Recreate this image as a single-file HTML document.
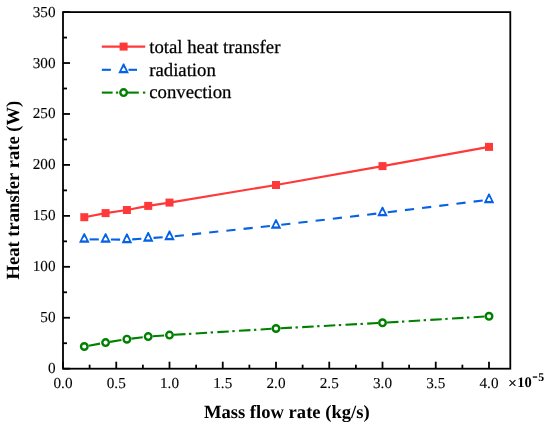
<!DOCTYPE html>
<html><head><meta charset="utf-8"><style>
html,body{margin:0;padding:0;background:#fff;width:550px;height:425px;overflow:hidden}
svg{display:block;will-change:transform}
text{font-family:"Liberation Serif",serif;fill:#000;text-rendering:geometricPrecision}
.t{font-size:15.2px;stroke:#000;stroke-width:0.12px}
.l{font-size:18.75px;stroke:#000;stroke-width:0.25px}
.a{font-size:18.6px;font-weight:bold}
.m{font-size:15px;stroke:#000;stroke-width:0.35px}
.b{font-size:14.5px;font-weight:bold}
.s{font-size:11.8px;font-weight:bold}
</style></head><body>
<svg width="550" height="425" viewBox="0 0 550 425">
<rect x="63.0" y="12.1" width="447.30" height="356.60" fill="none" stroke="#000" stroke-width="1.8"/>
<line x1="63.0" y1="368.70" x2="70.0" y2="368.70" stroke="#000" stroke-width="1.8"/>
<text x="55.5" y="373.20" text-anchor="end" class="t">0</text>
<line x1="63.0" y1="343.23" x2="67.0" y2="343.23" stroke="#000" stroke-width="1.8"/>
<line x1="63.0" y1="317.75" x2="70.0" y2="317.75" stroke="#000" stroke-width="1.8"/>
<text x="55.5" y="322.25" text-anchor="end" class="t">50</text>
<line x1="63.0" y1="292.28" x2="67.0" y2="292.28" stroke="#000" stroke-width="1.8"/>
<line x1="63.0" y1="266.81" x2="70.0" y2="266.81" stroke="#000" stroke-width="1.8"/>
<text x="55.5" y="271.31" text-anchor="end" class="t">100</text>
<line x1="63.0" y1="241.34" x2="67.0" y2="241.34" stroke="#000" stroke-width="1.8"/>
<line x1="63.0" y1="215.87" x2="70.0" y2="215.87" stroke="#000" stroke-width="1.8"/>
<text x="55.5" y="220.37" text-anchor="end" class="t">150</text>
<line x1="63.0" y1="190.39" x2="67.0" y2="190.39" stroke="#000" stroke-width="1.8"/>
<line x1="63.0" y1="164.92" x2="70.0" y2="164.92" stroke="#000" stroke-width="1.8"/>
<text x="55.5" y="169.42" text-anchor="end" class="t">200</text>
<line x1="63.0" y1="139.45" x2="67.0" y2="139.45" stroke="#000" stroke-width="1.8"/>
<line x1="63.0" y1="113.98" x2="70.0" y2="113.98" stroke="#000" stroke-width="1.8"/>
<text x="55.5" y="118.48" text-anchor="end" class="t">250</text>
<line x1="63.0" y1="88.50" x2="67.0" y2="88.50" stroke="#000" stroke-width="1.8"/>
<line x1="63.0" y1="63.03" x2="70.0" y2="63.03" stroke="#000" stroke-width="1.8"/>
<text x="55.5" y="67.53" text-anchor="end" class="t">300</text>
<line x1="63.0" y1="37.56" x2="67.0" y2="37.56" stroke="#000" stroke-width="1.8"/>
<line x1="63.0" y1="12.09" x2="70.0" y2="12.09" stroke="#000" stroke-width="1.8"/>
<text x="55.5" y="16.59" text-anchor="end" class="t">350</text>
<line x1="63.00" y1="368.7" x2="63.00" y2="361.7" stroke="#000" stroke-width="1.8"/>
<text x="63.00" y="388.4" text-anchor="middle" class="t">0.0</text>
<line x1="116.25" y1="368.7" x2="116.25" y2="361.7" stroke="#000" stroke-width="1.8"/>
<text x="116.25" y="388.4" text-anchor="middle" class="t">0.5</text>
<line x1="169.50" y1="368.7" x2="169.50" y2="361.7" stroke="#000" stroke-width="1.8"/>
<text x="169.50" y="388.4" text-anchor="middle" class="t">1.0</text>
<line x1="222.75" y1="368.7" x2="222.75" y2="361.7" stroke="#000" stroke-width="1.8"/>
<text x="222.75" y="388.4" text-anchor="middle" class="t">1.5</text>
<line x1="276.00" y1="368.7" x2="276.00" y2="361.7" stroke="#000" stroke-width="1.8"/>
<text x="276.00" y="388.4" text-anchor="middle" class="t">2.0</text>
<line x1="329.25" y1="368.7" x2="329.25" y2="361.7" stroke="#000" stroke-width="1.8"/>
<text x="329.25" y="388.4" text-anchor="middle" class="t">2.5</text>
<line x1="382.50" y1="368.7" x2="382.50" y2="361.7" stroke="#000" stroke-width="1.8"/>
<text x="382.50" y="388.4" text-anchor="middle" class="t">3.0</text>
<line x1="435.75" y1="368.7" x2="435.75" y2="361.7" stroke="#000" stroke-width="1.8"/>
<text x="435.75" y="388.4" text-anchor="middle" class="t">3.5</text>
<line x1="489.00" y1="368.7" x2="489.00" y2="361.7" stroke="#000" stroke-width="1.8"/>
<text x="489.00" y="388.4" text-anchor="middle" class="t">4.0</text>
<line x1="89.62" y1="368.7" x2="89.62" y2="364.7" stroke="#000" stroke-width="1.8"/>
<line x1="142.88" y1="368.7" x2="142.88" y2="364.7" stroke="#000" stroke-width="1.8"/>
<line x1="196.12" y1="368.7" x2="196.12" y2="364.7" stroke="#000" stroke-width="1.8"/>
<line x1="249.38" y1="368.7" x2="249.38" y2="364.7" stroke="#000" stroke-width="1.8"/>
<line x1="302.62" y1="368.7" x2="302.62" y2="364.7" stroke="#000" stroke-width="1.8"/>
<line x1="355.88" y1="368.7" x2="355.88" y2="364.7" stroke="#000" stroke-width="1.8"/>
<line x1="409.12" y1="368.7" x2="409.12" y2="364.7" stroke="#000" stroke-width="1.8"/>
<line x1="462.38" y1="368.7" x2="462.38" y2="364.7" stroke="#000" stroke-width="1.8"/>
<polyline points="84.30,217.20 105.60,213.10 126.90,210.00 148.20,205.90 169.50,202.60 276.00,185.00 382.50,166.10 489.00,146.90" fill="none" stroke="#FF3939" stroke-width="2.1"/>
<line x1="89.60" y1="239.40" x2="100.30" y2="239.40" stroke="#0562E6" stroke-width="2.1" stroke-dasharray="9.2 8.1"/>
<line x1="110.90" y1="239.47" x2="121.60" y2="239.63" stroke="#0562E6" stroke-width="2.1" stroke-dasharray="9.2 8.1"/>
<line x1="132.19" y1="239.33" x2="142.91" y2="238.57" stroke="#0562E6" stroke-width="2.1" stroke-dasharray="9.2 8.1"/>
<line x1="153.49" y1="237.85" x2="164.21" y2="237.15" stroke="#0562E6" stroke-width="2.1" stroke-dasharray="9.2 8.1"/>
<line x1="174.77" y1="236.24" x2="270.73" y2="225.96" stroke="#0562E6" stroke-width="2.1" stroke-dasharray="9.2 8.1"/>
<line x1="281.26" y1="224.78" x2="377.24" y2="213.52" stroke="#0562E6" stroke-width="2.1" stroke-dasharray="9.2 8.1"/>
<line x1="387.76" y1="212.25" x2="483.74" y2="200.35" stroke="#0562E6" stroke-width="2.1" stroke-dasharray="9.2 8.1"/>
<line x1="88.73" y1="345.69" x2="101.17" y2="343.41" stroke="#008000" stroke-width="2.1" stroke-dasharray="11.5 3.5 2.4 4.3"/>
<line x1="110.04" y1="341.89" x2="122.46" y2="339.91" stroke="#008000" stroke-width="2.1" stroke-dasharray="11.5 3.5 2.4 4.3"/>
<line x1="131.37" y1="338.65" x2="143.73" y2="337.15" stroke="#008000" stroke-width="2.1" stroke-dasharray="11.5 3.5 2.4 4.3"/>
<line x1="152.69" y1="336.28" x2="165.01" y2="335.42" stroke="#008000" stroke-width="2.1" stroke-dasharray="11.5 3.5 2.4 4.3"/>
<line x1="173.99" y1="334.82" x2="271.51" y2="328.78" stroke="#008000" stroke-width="2.1" stroke-dasharray="11.5 3.5 2.4 4.3"/>
<line x1="280.49" y1="328.26" x2="378.01" y2="323.04" stroke="#008000" stroke-width="2.1" stroke-dasharray="11.5 3.5 2.4 4.3"/>
<line x1="386.99" y1="322.53" x2="484.51" y2="316.57" stroke="#008000" stroke-width="2.1" stroke-dasharray="11.5 3.5 2.4 4.3"/>
<rect x="80.30" y="213.20" width="8" height="8" fill="#FF3939"/>
<rect x="101.60" y="209.10" width="8" height="8" fill="#FF3939"/>
<rect x="122.90" y="206.00" width="8" height="8" fill="#FF3939"/>
<rect x="144.20" y="201.90" width="8" height="8" fill="#FF3939"/>
<rect x="165.50" y="198.60" width="8" height="8" fill="#FF3939"/>
<rect x="272.00" y="181.00" width="8" height="8" fill="#FF3939"/>
<rect x="378.50" y="162.10" width="8" height="8" fill="#FF3939"/>
<rect x="485.00" y="142.90" width="8" height="8" fill="#FF3939"/>
<path d="M83.70,233.20L84.90,233.20L89.60,242.85L79.00,242.85ZM84.30,236.80L86.40,240.35L82.20,240.35Z" fill="#0562E6" fill-rule="evenodd"/><path d="M84.30,236.80L86.40,240.35L82.20,240.35Z" fill="#fff"/>
<path d="M105.00,233.20L106.20,233.20L110.90,242.85L100.30,242.85ZM105.60,236.80L107.70,240.35L103.50,240.35Z" fill="#0562E6" fill-rule="evenodd"/><path d="M105.60,236.80L107.70,240.35L103.50,240.35Z" fill="#fff"/>
<path d="M126.30,233.50L127.50,233.50L132.20,243.15L121.60,243.15ZM126.90,237.10L129.00,240.65L124.80,240.65Z" fill="#0562E6" fill-rule="evenodd"/><path d="M126.90,237.10L129.00,240.65L124.80,240.65Z" fill="#fff"/>
<path d="M147.60,232.00L148.80,232.00L153.50,241.65L142.90,241.65ZM148.20,235.60L150.30,239.15L146.10,239.15Z" fill="#0562E6" fill-rule="evenodd"/><path d="M148.20,235.60L150.30,239.15L146.10,239.15Z" fill="#fff"/>
<path d="M168.90,230.60L170.10,230.60L174.80,240.25L164.20,240.25ZM169.50,234.20L171.60,237.75L167.40,237.75Z" fill="#0562E6" fill-rule="evenodd"/><path d="M169.50,234.20L171.60,237.75L167.40,237.75Z" fill="#fff"/>
<path d="M275.40,219.20L276.60,219.20L281.30,228.85L270.70,228.85ZM276.00,222.80L278.10,226.35L273.90,226.35Z" fill="#0562E6" fill-rule="evenodd"/><path d="M276.00,222.80L278.10,226.35L273.90,226.35Z" fill="#fff"/>
<path d="M381.90,206.70L383.10,206.70L387.80,216.35L377.20,216.35ZM382.50,210.30L384.60,213.85L380.40,213.85Z" fill="#0562E6" fill-rule="evenodd"/><path d="M382.50,210.30L384.60,213.85L380.40,213.85Z" fill="#fff"/>
<path d="M488.40,193.50L489.60,193.50L494.30,203.15L483.70,203.15ZM489.00,197.10L491.10,200.65L486.90,200.65Z" fill="#0562E6" fill-rule="evenodd"/><path d="M489.00,197.10L491.10,200.65L486.90,200.65Z" fill="#fff"/>
<circle cx="84.30" cy="346.50" r="3.3" fill="#fff" stroke="#008000" stroke-width="2.4"/>
<circle cx="105.60" cy="342.60" r="3.3" fill="#fff" stroke="#008000" stroke-width="2.4"/>
<circle cx="126.90" cy="339.20" r="3.3" fill="#fff" stroke="#008000" stroke-width="2.4"/>
<circle cx="148.20" cy="336.60" r="3.3" fill="#fff" stroke="#008000" stroke-width="2.4"/>
<circle cx="169.50" cy="335.10" r="3.3" fill="#fff" stroke="#008000" stroke-width="2.4"/>
<circle cx="276.00" cy="328.50" r="3.3" fill="#fff" stroke="#008000" stroke-width="2.4"/>
<circle cx="382.50" cy="322.80" r="3.3" fill="#fff" stroke="#008000" stroke-width="2.4"/>
<circle cx="489.00" cy="316.30" r="3.3" fill="#fff" stroke="#008000" stroke-width="2.4"/>
<line x1="101.8" y1="46.6" x2="145.2" y2="46.6" stroke="#FF3939" stroke-width="2.1"/>
<rect x="119.60" y="42.60" width="8" height="8" fill="#FF3939"/>
<line x1="101.8" y1="69.8" x2="110.9" y2="69.8" stroke="#0562E6" stroke-width="2.1"/>
<line x1="128.5" y1="69.8" x2="137" y2="69.8" stroke="#0562E6" stroke-width="2.1"/>
<path d="M123.00,63.60L124.20,63.60L128.90,73.25L118.30,73.25ZM123.60,67.20L125.70,70.75L121.50,70.75Z" fill="#0562E6" fill-rule="evenodd"/><path d="M123.60,67.20L125.70,70.75L121.50,70.75Z" fill="#fff"/>
<line x1="101.8" y1="92.6" x2="112.6" y2="92.6" stroke="#008000" stroke-width="2.1"/>
<line x1="115.9" y1="92.6" x2="118.2" y2="92.6" stroke="#008000" stroke-width="2.1"/>
<line x1="127.5" y1="92.6" x2="138.8" y2="92.6" stroke="#008000" stroke-width="2.1"/>
<line x1="142.9" y1="92.6" x2="145.3" y2="92.6" stroke="#008000" stroke-width="2.1"/>
<circle cx="123.60" cy="92.60" r="3.3" fill="#fff" stroke="#008000" stroke-width="2.4"/>
<text x="149.2" y="52.7" class="l">total heat transfer</text>
<text x="149.2" y="75.5" class="l">radiation</text>
<text x="149.2" y="98.4" class="l">convection</text>
<text x="286.8" y="417.8" text-anchor="middle" class="a">Mass flow rate (kg/s)</text>
<text transform="translate(18.9,190.1) rotate(-90)" x="0" y="0" text-anchor="middle" class="a">Heat transfer rate (W)</text>
<text x="508.3" y="388.0" class="m">&#215;</text>
<text x="517.3" y="387.4" class="b">10</text>
<rect x="532.8" y="376.3" width="4.4" height="1.5" fill="#222"/>
<text x="538.3" y="381.0" class="s">5</text>
</svg>
</body></html>
